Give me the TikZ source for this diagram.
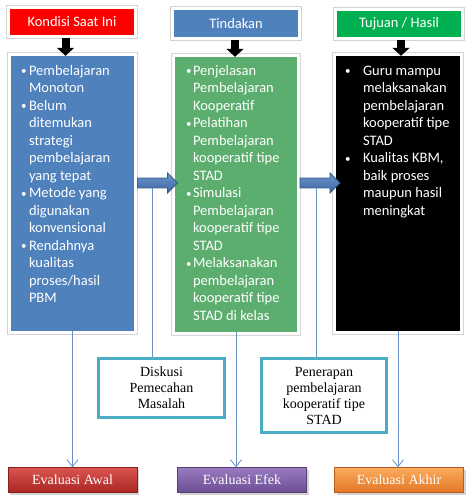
\documentclass[tikz,border=0pt]{standalone}
\usepackage{fontspec}
\setmainfont{Carlito}
\newfontfamily\timesfont{Liberation Serif}
\usetikzlibrary{shapes.arrows,arrows.meta,shadows}

\definecolor{kondisired}{RGB}{255,0,0}
\definecolor{headblue}{RGB}{79,129,189}
\definecolor{headgreen}{RGB}{0,176,80}
\definecolor{boxblue}{RGB}{79,129,189}
\definecolor{boxgreen}{RGB}{92,174,110}
\definecolor{framegray}{RGB}{212,212,212}
\definecolor{linkblue}{RGB}{105,145,200}
\definecolor{tealline}{RGB}{75,172,198}
\definecolor{arrowedge}{RGB}{56,93,138}
\definecolor{arrowtop}{RGB}{110,150,205}
\definecolor{arrowbot}{RGB}{60,100,160}
\definecolor{awaltop}{RGB}{218,85,80}
\definecolor{awalbot}{RGB}{170,38,34}
\definecolor{efektop}{RGB}{152,122,192}
\definecolor{efekbot}{RGB}{108,78,148}
\definecolor{akhirtop}{RGB}{250,172,92}
\definecolor{akhirbot}{RGB}{228,118,38}

\newcommand{\blt}[1]{\makebox[#1][l]{\raisebox{0.6pt}{\fontsize{11}{11}\selectfont\textbullet}}}

\begin{document}
\begin{tikzpicture}[x=1pt,y=-1pt,
		framed/.style={preaction={draw=framegray,line width=8pt},preaction={draw=white,line width=6.5pt}},
		headbox/.style={framed,rectangle,inner sep=0pt,minimum width=124pt,minimum height=26pt,text=white,font=\fontsize{14.5}{17.5}\selectfont},
		bodybox/.style={framed,rectangle,inner sep=0pt,minimum width=123pt,minimum height=275pt},
		listtext/.style={anchor=north west,inner sep=0pt,text=white,font=\fontsize{14.5}{17.5}\selectfont},
		downarrow/.style={line width=8pt,-{Triangle[length=8pt,width=17pt]}},
		blockarrow/.style={single arrow,draw=arrowedge,line width=0.8pt,top color=arrowtop,bottom color=arrowbot,text height=4.5pt,text depth=4.5pt,minimum width=20pt,minimum height=40pt,single arrow head extend=5pt,inner sep=0pt},
		link/.style={draw=linkblue,line width=0.8pt,-{Straight Barb[length=7pt,width=11pt]}},
		plainlink/.style={draw=linkblue,line width=0.8pt},
		notebox/.style={rectangle,draw=tealline,line width=3pt,fill=white,inner sep=0pt,minimum width=126pt,align=center,font=\timesfont\fontsize{14}{16}\selectfont},
		evalbox/.style={rectangle,inner sep=0pt,minimum width=129pt,minimum height=25pt,text=white,font=\timesfont\fontsize{14}{16}\selectfont,drop shadow={shadow xshift=2pt,shadow yshift=-2pt,opacity=0.35}}]
	\useasboundingbox (0,0) rectangle (474,502);
	
	% headers
	\node[headbox,fill=kondisired] (kondisiHead) at (72,22) {Kondisi Saat Ini};
	\node[headbox,fill=headblue,minimum height=27pt] (tindakanHead) at (236,23.5) {Tindakan};
	\node[headbox,fill=headgreen] (tujuanHead) at (399,24) {Tujuan / Hasil};
	
	% columns
	\node[bodybox,fill=boxblue] (kondisiBox) at (72.5,193.5) {};
	\node[bodybox,fill=boxgreen,minimum width=122pt] (tindakanBox) at (236,194.5) {};
	\node[bodybox,fill=black,minimum width=124pt] (tujuanBox) at (398,193.5) {};
	
	\node[listtext] (kondisiList) at ([shift={(10,7)}]kondisiBox.north west) {\begin{tabular}{@{}l@{}l@{}}
			\blt{8pt} & Pembelajaran\\
			& Monoton\\
			\blt{8pt} & Belum\\
			& ditemukan\\
			& strategi\\
			& pembelajaran\\
			& yang tepat\\
			\blt{8pt} & Metode yang\\
			& digunakan\\
			& konvensional\\
			\blt{8pt} & Rendahnya\\
			& kualitas\\
			& proses/hasil\\
			& PBM
		\end{tabular}};
	\node[listtext] (tindakanList) at ([shift={(11,6)}]tindakanBox.north west) {\begin{tabular}{@{}l@{}l@{}}
			\blt{7pt} & Penjelasan\\
			& Pembelajaran\\
			& Kooperatif\\
			\blt{7pt} & Pelatihan\\
			& Pembelajaran\\
			& kooperatif tipe\\
			& STAD\\
			\blt{7pt} & Simulasi\\
			& Pembelajaran\\
			& kooperatif tipe\\
			& STAD\\
			\blt{7pt} & Melaksanakan\\
			& pembelajaran\\
			& kooperatif tipe\\
			& STAD di kelas
		\end{tabular}};
	\node[listtext] (tujuanList) at ([shift={(9,7)}]tujuanBox.north west) {\begin{tabular}{@{}l@{}l@{}}
			\blt{18pt} & Guru mampu\\
			& melaksanakan\\
			& pembelajaran\\
			& kooperatif tipe\\
			& STAD\\
			\blt{18pt} & Kualitas KBM,\\
			& baik proses\\
			& maupun hasil\\
			& meningkat
		\end{tabular}};
	
	\draw[downarrow] ([xshift=-6.5pt,yshift=-3pt]kondisiHead.south) -- ([xshift=-6.5pt]kondisiHead.south |- kondisiBox.north);
	\draw[downarrow] ([xshift=-1pt,yshift=-3pt]tindakanHead.south) -- ([xshift=-1pt]tindakanHead.south |- tindakanBox.north);
	\draw[downarrow] ([xshift=2pt,yshift=-3pt]tujuanHead.south) -- ([xshift=2pt]tujuanHead.south |- tujuanBox.north);
	
	\node[blockarrow] (arrKT) at (155,183) {};
	\node[blockarrow] (arrTT) at (317.5,183) {};
	
	% notes
	\node[notebox,minimum height=59pt] (diskusiBox) at (161.5,388) {Diskusi\\Pemecahan\\Masalah};
	\node[notebox,minimum width=125pt,minimum height=74pt] (penerapanBox) at (324,395.5) {Penerapan\\pembelajaran\\kooperatif tipe\\STAD};
	
	\draw[plainlink] ([shift={(-3,5)}]arrKT.center) -- ([xshift=-3pt]arrKT.center |- diskusiBox.north);
	\draw[plainlink] ([shift={(-1.5,5)}]arrTT.center) -- ([xshift=-1.5pt]arrTT.center |- penerapanBox.north);
	
	% evaluations
	\node[evalbox,draw=awalbot!80!black,top color=awaltop,bottom color=awalbot] (evalAwal) at (72.5,480) {Evaluasi Awal};
	\node[evalbox,draw=efekbot!80!black,top color=efektop,bottom color=efekbot] (evalEfek) at (242,480) {Evaluasi Efek};
	\node[evalbox,draw=akhirbot!80!black,top color=akhirtop,bottom color=akhirbot] (evalAkhir) at (399,480) {Evaluasi Akhir};
	
	\draw[link] (kondisiBox.south) -- (evalAwal.north);
	\draw[link] (tindakanBox.south) -- (tindakanBox.south |- evalEfek.north);
	\draw[link] (tujuanBox.south) -- (tujuanBox.south |- evalAkhir.north);
\end{tikzpicture}
\end{document}
